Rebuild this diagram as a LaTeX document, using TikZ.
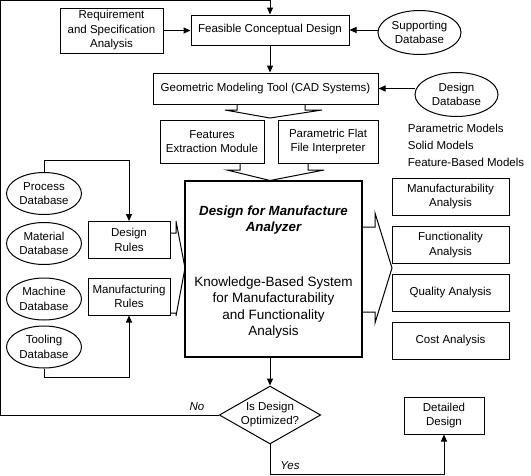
\documentclass[tikz,border=0pt]{standalone}
\usepackage{fontspec}
\setmainfont{Liberation Sans}
\usetikzlibrary{shapes.geometric, arrows.meta, positioning, calc}

\begin{document}
\begin{tikzpicture}[
    x=1pt, y=-1pt,
    font=\fontsize{11.5}{14.5}\selectfont,
    line width=1pt,
    procbox/.style={draw, align=center, inner sep=2pt},
    analysisbox/.style={procbox, minimum width=117pt, minimum height=37pt},
    rulebox/.style={procbox, minimum width=82pt, minimum height=37pt},
    dbase/.style={draw, ellipse, align=center, inner sep=0pt, minimum width=83pt, minimum height=44pt},
    smalldb/.style={dbase, minimum width=75pt, minimum height=42pt},
    decisionbox/.style={draw, diamond, aspect=1.75, inner sep=0pt, align=center, minimum width=101pt, minimum height=57pt, font=\fontsize{11.5}{14}\selectfont},
    arrow/.style={-{Triangle[length=7pt, width=6pt]}},
    hollow/.style={line join=miter},
    answer/.style={font=\fontsize{11.5}{14}\selectfont\itshape, inner sep=1pt}
]
\useasboundingbox (0,0) rectangle (531,475);

% === TOP ROW ===
\node[procbox, minimum width=103pt, minimum height=45pt] (req) at (111.5,30.5) {Requirement\\and Specification\\Analysis};
\node[procbox, minimum width=158pt, minimum height=30pt] (feasible) at (270,30) {Feasible Conceptual Design};
\node[dbase] (supportdb) at (419.5,32.5) {Supporting\\Database};

% === GEOMETRIC MODELING ===
\node[procbox, minimum width=225pt, minimum height=31pt] (geomtool) at (265.5,88.5) {Geometric Modeling Tool (CAD Systems)};
\node[dbase] (designdb) at (456.5,94.5) {Design\\Database};

\node[procbox, minimum width=104pt, minimum height=43pt] (features) at (212,141.5) {Features\\Extraction Module};
\node[procbox, minimum width=100pt, minimum height=43pt] (flatfile) at (328,141.5) {Parametric Flat\\File Interpreter};
\node[anchor=west, align=left, font=\fontsize{11.5}{17}\selectfont] (modeltypes) at (404,145) {Parametric Models\\Solid Models\\Feature-Based Models};

% === ANALYZER ===
\node[draw, line width=1.1pt, minimum width=177pt, minimum height=176pt] (dfm) at (273.5,269) {};
\node[font=\fontsize{13.3}{16}\selectfont\bfseries\itshape, align=center] (dfmtitle) at (273.5,220) {Design for Manufacture\\Analyzer};
\node[font=\fontsize{13.5}{16.3}\selectfont, align=center] (dfmtext) at (273.5,307.5) {Knowledge-Based System\\for Manufacturability\\and Functionality\\Analysis};

% === RIGHT ANALYSIS BOXES ===
\node[analysisbox] (mfganalysis) at (450.5,196.5) {Manufacturability\\Analysis};
\node[analysisbox] (funcanalysis) at (450.5,245) {Functionality\\Analysis};
\node[analysisbox] (qualanalysis) at (450.5,293) {Quality Analysis};
\node[analysisbox] (costanalysis) at (450.5,340.5) {Cost Analysis};

% === LEFT DATABASES AND RULES ===
\node[smalldb] (processdb) at (44,193.5) {Process\\Database};
\node[smalldb] (materialdb) at (44,243.5) {Material\\Database};
\node[smalldb] (machinedb) at (44,299) {Machine\\Database};
\node[smalldb] (toolingdb) at (44,347) {Tooling\\Database};
\node[rulebox] (designrules) at (129,240) {Design\\Rules};
\node[rulebox] (mfgrules) at (129,296.5) {Manufacturing\\Rules};

% === DECISION ===
\node[decisionbox] (decision) at (270,415) {Is Design\\Optimized?};
\node[procbox, minimum width=80pt, minimum height=37pt] (detailed) at (444,415.5) {Detailed\\Design};
\node[answer] (nolabel) at (197,407) {No};
\node[answer] (yeslabel) at (290,466) {Yes};

% === ARROWS ===
\draw[arrow] (req.east) -- (req.east -| feasible.west);
\draw[arrow] (supportdb.west |- feasible.east) -- (feasible.east);
\draw[arrow] (feasible) -- (feasible |- geomtool.north);
\draw[arrow] (designdb.west |- geomtool.east) -- (geomtool.east);
\draw[arrow] (processdb.north) -- ++(0,-12) -| (designrules.north);
\draw[arrow] (toolingdb.south) -- ++(0,9) -| (mfgrules.south);
\draw[arrow] (dfm.south -| decision.north) -- (decision.north);
\draw[arrow] (decision.south) -- ++(0,30) -| (detailed.south);

% feedback loop
\coordinate (loopbottom) at (0.8,415);
\coordinate (looptop) at (0.8,0.8);
\draw[arrow] (decision.west) -- (loopbottom) -- (looptop) -| (feasible.north);

% === BLOCK ARROWS ===
\draw[hollow] (237,104) -- (237,110) -- (225,110) -- (270,118) -- (322,110) -- (305,110) -- (305,104);
\draw[hollow] (240,163) -- (240,170) -- (227,170) -- (270,180.5) -- (324,170) -- (308,170) -- (308,163);
\draw[hollow] (170,233) -- (176,233) -- (176,221) -- (185,268) -- (176,316) -- (176,313) -- (170,313);
\draw[hollow] (362,227) -- (375,227) -- (375,213) -- (392,268) -- (375,323) -- (375,312) -- (362,312);

\end{tikzpicture}
\end{document}
